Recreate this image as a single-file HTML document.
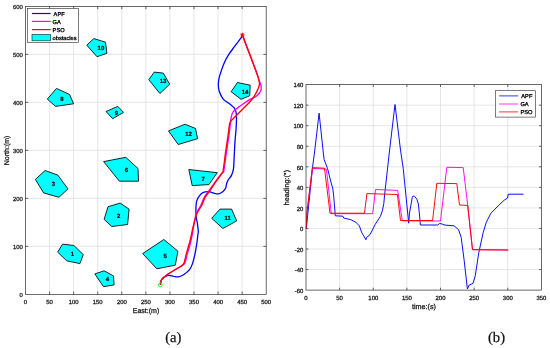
<!DOCTYPE html>
<html><head><meta charset="utf-8"><title>figure</title>
<style>html,body{margin:0;padding:0;background:#fff}body{width:550px;height:348px;overflow:hidden}svg{display:block}text{font-family:"Liberation Sans",Arial,sans-serif;fill:#1a1a1a;text-rendering:geometricPrecision}text{stroke:#1a1a1a;stroke-width:0.28px}.t{font-size:5.9px}.l{font-size:7px}.t2{font-size:5.95px}.l2{font-size:7.2px}.g{font-size:5.7px;fill:#000;stroke:#000;stroke-width:0.3px}.o{font-size:6px;font-weight:bold;fill:#000;stroke:#000;stroke-width:0.2px}.cap{font-family:"Liberation Serif","DejaVu Serif",serif;font-size:14.6px;fill:#111;stroke:#111;stroke-width:0.25px}</style></head><body>
<svg width="550" height="348" viewBox="0 0 550 348">
<rect width="550" height="348" fill="#fff"/>
<g stroke="#d6d6d6" stroke-width="0.62" fill="none">
<line x1="49.57" y1="6.4" x2="49.57" y2="294.35"/>
<line x1="73.64" y1="6.4" x2="73.64" y2="294.35"/>
<line x1="97.71" y1="6.4" x2="97.71" y2="294.35"/>
<line x1="121.78" y1="6.4" x2="121.78" y2="294.35"/>
<line x1="145.85" y1="6.4" x2="145.85" y2="294.35"/>
<line x1="169.92" y1="6.4" x2="169.92" y2="294.35"/>
<line x1="193.99" y1="6.4" x2="193.99" y2="294.35"/>
<line x1="218.06" y1="6.4" x2="218.06" y2="294.35"/>
<line x1="242.13" y1="6.4" x2="242.13" y2="294.35"/>
<line x1="25.5" y1="246.36" x2="266.2" y2="246.36"/>
<line x1="25.5" y1="198.37" x2="266.2" y2="198.37"/>
<line x1="25.5" y1="150.38" x2="266.2" y2="150.38"/>
<line x1="25.5" y1="102.38" x2="266.2" y2="102.38"/>
<line x1="25.5" y1="54.39" x2="266.2" y2="54.39"/>
</g>
<g fill="#00ffff" stroke="#000" stroke-width="0.85" stroke-linejoin="miter">
<polygon points="86.8,45.2 93.8,38.6 105.5,42.2 106.9,53.3 97.0,56.7"/>
<polygon points="148.8,79.7 154.2,72.1 163.3,73.1 169.7,84.2 159.9,93.5"/>
<polygon points="47.3,99.1 56.5,88.4 69.6,94.5 73.6,103.8 55.5,106.4"/>
<polygon points="106.0,111.5 117.8,106.4 123.5,112.4 112.7,118.7"/>
<polygon points="168.5,130.9 185.1,124.2 195.5,128.5 197.6,138.7 178.2,144.5"/>
<polygon points="35.4,179.4 45.1,170.5 57.8,175.1 68.0,188.9 58.9,197.3 43.6,192.9"/>
<polygon points="103.6,161.6 125.8,157.3 138.0,168.5 138.5,181.2 119.4,181.2"/>
<polygon points="108.0,206.7 120.2,203.1 129.1,209.2 127.6,224.5 111.8,226.5 104.1,219.4"/>
<polygon points="57.6,252.1 62.6,244.1 73.9,245.5 83.3,254.6 79.9,263.6 66.7,260.8"/>
<polygon points="94.8,273.9 104.1,270.8 113.5,275.9 114.1,284.9 103.5,286.7"/>
<polygon points="142.7,253.6 163.8,239.5 177.9,251.1 175.3,265.2 156.8,268.8"/>
<polygon points="188.8,169.5 217.3,172.7 208.9,184.6 192.2,185.6"/>
<polygon points="211.7,218.3 220.0,209.1 231.6,209.1 236.7,220.9 222.9,228.5"/>
<polygon points="231.1,91.7 237.5,82.5 250.2,85.2 249.7,95.8 241.0,99.3"/>
</g>
<text class="o" x="100.9" y="50.3" text-anchor="middle">10</text>
<text class="o" x="163.1" y="82.9" text-anchor="middle">13</text>
<text class="o" x="62.0" y="101.0" text-anchor="middle">8</text>
<text class="o" x="116.5" y="114.8" text-anchor="middle">9</text>
<text class="o" x="188.5" y="135.9" text-anchor="middle">12</text>
<text class="o" x="53.3" y="186.4" text-anchor="middle">3</text>
<text class="o" x="126.3" y="172.4" text-anchor="middle">6</text>
<text class="o" x="118.7" y="217.5" text-anchor="middle">2</text>
<text class="o" x="72.3" y="256.1" text-anchor="middle">1</text>
<text class="o" x="107.5" y="280.8" text-anchor="middle">4</text>
<text class="o" x="165.2" y="257.7" text-anchor="middle">5</text>
<text class="o" x="203.2" y="180.6" text-anchor="middle">7</text>
<text class="o" x="227.7" y="219.7" text-anchor="middle">11</text>
<text class="o" x="245.1" y="93.6" text-anchor="middle">14</text>
<path d="M160.4,284.6C160.6,283.8 160.7,281.3 161.4,280.0C162.1,278.7 163.2,277.7 164.5,276.9C165.8,276.1 167.4,275.4 168.9,275.3C170.4,275.2 172.1,276.1 173.7,276.4C175.3,276.6 176.7,277.1 178.4,276.8C180.1,276.5 182.1,275.7 183.9,274.5C185.8,273.3 188.1,271.6 189.5,269.7C190.9,267.8 191.7,266.0 192.6,263.4C193.5,260.8 194.3,257.3 195.0,253.9C195.7,250.5 196.4,246.1 196.9,242.9C197.4,239.8 197.6,236.9 197.8,235.0C198.0,233.1 198.4,233.2 198.3,231.4C198.2,229.6 197.8,226.5 197.5,224.1C197.2,221.7 196.4,219.7 196.2,216.8C195.9,213.9 195.9,209.3 196.0,206.6C196.1,203.9 196.3,202.2 196.9,200.4C197.5,198.6 198.4,197.2 199.4,195.9C200.4,194.6 201.4,193.3 202.9,192.6C204.4,191.9 206.9,191.5 208.7,191.6C210.5,191.7 212.0,192.7 213.7,193.1C215.4,193.5 217.1,194.1 218.7,193.8C220.2,193.6 221.8,192.6 223.0,191.6C224.2,190.6 225.1,189.3 225.7,188.0C226.3,186.7 226.2,185.0 226.6,183.7C227.0,182.4 227.3,181.5 228.1,180.1C228.9,178.7 230.7,177.0 231.6,175.1C232.5,173.2 233.1,171.4 233.5,168.7C233.9,165.9 233.9,161.3 234.1,158.6C234.2,155.9 234.2,155.3 234.4,152.4C234.6,149.5 234.7,145.2 235.0,141.3C235.3,137.4 235.8,132.6 236.1,128.7C236.3,124.8 236.5,120.8 236.5,118.0C236.5,115.2 236.4,113.5 236.0,111.8C235.6,110.1 234.9,108.9 234.0,107.7C233.1,106.5 231.9,105.7 230.5,104.6C229.1,103.5 227.1,102.2 225.8,101.2C224.5,100.2 224.0,100.3 222.9,98.7C221.8,97.1 220.1,93.9 219.3,91.5C218.5,89.1 218.3,86.8 218.3,84.4C218.3,82.0 218.8,79.4 219.3,77.2C219.8,75.0 220.3,73.6 221.2,71.1C222.0,68.6 223.2,65.1 224.4,62.4C225.7,59.6 227.0,57.2 228.7,54.6C230.4,52.0 232.8,48.9 234.4,46.7C236.0,44.5 236.9,43.3 238.2,41.6C239.4,39.9 241.2,37.7 241.9,36.6C242.6,35.5 242.4,35.1 242.5,34.8" fill="none" stroke="#0000ff" stroke-width="1.3" stroke-linejoin="round"/>
<path d="M160.4,284.6C160.5,284.1 160.8,281.0 161.4,280.0C162.0,279.0 164.4,276.8 165.8,275.7C167.2,274.6 171.9,271.6 173.7,270.5C175.5,269.4 180.6,266.8 181.8,266.0C183.0,265.2 184.2,264.2 184.7,263.4C185.2,262.6 185.9,259.7 186.2,258.6C186.5,257.5 186.8,255.6 187.3,253.9C187.8,252.2 190.0,245.0 190.5,242.9C191.0,240.8 191.9,236.8 192.2,235.0C192.5,233.2 193.1,229.3 193.5,227.0C193.9,224.7 195.4,216.3 196.2,213.9C197.0,211.5 200.0,207.0 200.9,205.2C201.8,203.4 203.2,199.2 204.2,197.4C205.2,195.6 208.8,190.9 210.2,189.0C211.6,187.1 215.2,181.9 216.5,180.2C217.8,178.5 220.8,174.9 221.6,173.9C222.4,172.9 223.4,172.3 223.7,171.5C224.0,170.7 224.2,168.3 224.4,167.0C224.6,165.7 225.2,161.7 225.4,160.0C225.6,158.3 226.1,154.6 226.5,152.0C226.9,149.4 228.4,139.5 228.8,136.6C229.2,133.7 230.0,127.1 230.2,125.5C230.4,123.9 230.5,123.0 230.6,122.0C230.7,121.0 231.0,117.7 231.3,116.6C231.6,115.5 232.5,112.8 233.0,112.0C233.5,111.2 235.3,109.8 236.0,109.2C236.7,108.6 238.7,107.0 239.5,106.4C240.3,105.8 242.0,104.7 243.0,104.0C244.0,103.3 247.4,100.9 248.8,100.1C250.2,99.3 254.0,97.8 255.2,97.0C256.4,96.2 258.8,93.9 259.5,93.0C260.2,92.1 261.1,89.9 261.2,89.0C261.3,88.1 261.0,85.8 260.8,85.0C260.6,84.2 259.9,82.3 259.6,81.5C259.3,80.7 258.7,78.9 258.3,77.6C257.9,76.3 256.6,72.7 255.6,70.0C254.6,67.3 250.7,57.0 249.3,53.3C247.9,49.6 243.8,38.7 243.0,36.6C242.2,34.5 242.6,35.0 242.5,34.8" fill="none" stroke="#ff00ff" stroke-width="1.35" stroke-linejoin="round"/>
<path d="M160.4,284.6C160.5,284.1 160.8,281.0 161.4,280.0C162.0,279.0 164.4,276.8 165.8,275.7C167.2,274.6 171.9,271.6 173.7,270.5C175.5,269.4 180.5,266.6 181.6,265.8C182.7,265.0 183.5,264.2 183.9,263.4C184.3,262.6 184.9,259.7 185.2,258.6C185.5,257.5 185.8,255.6 186.3,253.9C186.8,252.2 188.9,245.0 189.5,242.9C190.1,240.8 191.0,236.8 191.4,235.0C191.8,233.2 192.5,229.3 193.1,227.0C193.7,224.7 195.7,216.3 196.7,213.9C197.7,211.5 200.9,207.0 201.8,205.2C202.7,203.4 204.1,199.2 205.1,197.4C206.1,195.6 209.7,190.9 211.0,189.0C212.3,187.1 215.8,181.9 217.0,180.2C218.2,178.5 220.8,174.7 221.5,173.7C222.2,172.7 222.8,172.2 223.0,171.5C223.2,170.8 223.4,168.3 223.6,167.0C223.8,165.7 224.4,161.7 224.6,160.0C224.8,158.3 225.2,154.6 225.6,152.0C226.0,149.4 227.5,139.5 227.9,136.6C228.3,133.7 229.1,127.0 229.3,125.5C229.5,124.0 229.6,123.8 229.8,123.3C230.0,122.8 230.3,121.7 231.1,120.8C231.9,119.9 234.9,117.1 236.6,115.3C238.3,113.5 245.4,106.4 246.8,105.0C248.2,103.6 247.9,104.0 248.8,103.0C249.7,102.0 253.5,97.4 254.5,95.8C255.5,94.2 257.5,90.1 258.1,88.7C258.7,87.3 259.5,84.9 259.5,83.6C259.5,82.3 258.5,78.7 258.1,77.2C257.7,75.7 256.6,72.7 255.6,70.0C254.6,67.3 250.7,57.0 249.3,53.3C247.9,49.6 243.8,38.7 243.0,36.6C242.2,34.5 242.6,35.0 242.5,34.8" fill="none" stroke="#ff0000" stroke-width="1.35" stroke-linejoin="round"/>
<circle cx="160.4" cy="284.8" r="1.9" fill="none" stroke="#00ff00" stroke-width="0.9"/>
<circle cx="242.4" cy="34.7" r="1.3" fill="#ff0000"/>
<g stroke="#ff0000" stroke-width="0.7"><line x1="240.2" y1="34.8" x2="244.6" y2="34.8"/><line x1="242.4" y1="32.6" x2="242.4" y2="37"/><line x1="240.8" y1="33.2" x2="244" y2="36.4"/><line x1="240.8" y1="36.4" x2="244" y2="33.2"/></g>
<g stroke="#303030" stroke-width="0.72" fill="none"><rect x="25.5" y="6.4" width="240.7" height="287.95000000000005"/>
<line x1="49.57" y1="294.35" x2="49.57" y2="291.55"/><line x1="49.57" y1="6.4" x2="49.57" y2="9.2"/>
<line x1="73.64" y1="294.35" x2="73.64" y2="291.55"/><line x1="73.64" y1="6.4" x2="73.64" y2="9.2"/>
<line x1="97.71" y1="294.35" x2="97.71" y2="291.55"/><line x1="97.71" y1="6.4" x2="97.71" y2="9.2"/>
<line x1="121.78" y1="294.35" x2="121.78" y2="291.55"/><line x1="121.78" y1="6.4" x2="121.78" y2="9.2"/>
<line x1="145.85" y1="294.35" x2="145.85" y2="291.55"/><line x1="145.85" y1="6.4" x2="145.85" y2="9.2"/>
<line x1="169.92" y1="294.35" x2="169.92" y2="291.55"/><line x1="169.92" y1="6.4" x2="169.92" y2="9.2"/>
<line x1="193.99" y1="294.35" x2="193.99" y2="291.55"/><line x1="193.99" y1="6.4" x2="193.99" y2="9.2"/>
<line x1="218.06" y1="294.35" x2="218.06" y2="291.55"/><line x1="218.06" y1="6.4" x2="218.06" y2="9.2"/>
<line x1="242.13" y1="294.35" x2="242.13" y2="291.55"/><line x1="242.13" y1="6.4" x2="242.13" y2="9.2"/>
<line x1="25.5" y1="246.36" x2="28.3" y2="246.36"/><line x1="266.2" y1="246.36" x2="263.4" y2="246.36"/>
<line x1="25.5" y1="198.37" x2="28.3" y2="198.37"/><line x1="266.2" y1="198.37" x2="263.4" y2="198.37"/>
<line x1="25.5" y1="150.38" x2="28.3" y2="150.38"/><line x1="266.2" y1="150.38" x2="263.4" y2="150.38"/>
<line x1="25.5" y1="102.38" x2="28.3" y2="102.38"/><line x1="266.2" y1="102.38" x2="263.4" y2="102.38"/>
<line x1="25.5" y1="54.39" x2="28.3" y2="54.39"/><line x1="266.2" y1="54.39" x2="263.4" y2="54.39"/>
</g>
<text class="t" x="25.5" y="303.9" text-anchor="middle">0</text>
<text class="t" x="49.6" y="303.9" text-anchor="middle">50</text>
<text class="t" x="73.6" y="303.9" text-anchor="middle">100</text>
<text class="t" x="97.7" y="303.9" text-anchor="middle">150</text>
<text class="t" x="121.8" y="303.9" text-anchor="middle">200</text>
<text class="t" x="145.8" y="303.9" text-anchor="middle">250</text>
<text class="t" x="169.9" y="303.9" text-anchor="middle">300</text>
<text class="t" x="194.0" y="303.9" text-anchor="middle">350</text>
<text class="t" x="218.1" y="303.9" text-anchor="middle">400</text>
<text class="t" x="242.1" y="303.9" text-anchor="middle">450</text>
<text class="t" x="266.2" y="303.9" text-anchor="middle">500</text>
<text class="t" x="22.8" y="296.7" text-anchor="end">0</text>
<text class="t" x="22.8" y="248.7" text-anchor="end">100</text>
<text class="t" x="22.8" y="200.7" text-anchor="end">200</text>
<text class="t" x="22.8" y="152.7" text-anchor="end">300</text>
<text class="t" x="22.8" y="104.7" text-anchor="end">400</text>
<text class="t" x="22.8" y="56.7" text-anchor="end">500</text>
<text class="t" x="22.8" y="8.7" text-anchor="end">600</text>
<text class="l" x="146" y="313.4" text-anchor="middle">East:(m)</text>
<text class="l" transform="translate(8.6,150.4) rotate(-90)" text-anchor="middle">North:(m)</text>
<rect x="27.4" y="8.4" width="50.9" height="34.2" fill="#fff" stroke="#262626" stroke-width="0.6"/>
<line x1="32" y1="13.5" x2="50.6" y2="13.5" stroke="#0000ff" stroke-width="1.2"/>
<text class="g" x="53.6" y="15.6">APF</text>
<line x1="32" y1="21.4" x2="50.6" y2="21.4" stroke="#ff00ff" stroke-width="1.2"/>
<text class="g" x="52.6" y="23.5">GA</text>
<line x1="32" y1="29.6" x2="50.6" y2="29.6" stroke="#ff0000" stroke-width="1.2"/>
<text class="g" x="52.6" y="31.7">PSO</text>
<rect x="32" y="34.4" width="18.6" height="6.4" fill="#00ffff" stroke="#1a1a1a" stroke-width="0.6"/>
<text class="g" x="52.6" y="39.8">obstacles</text>
<text class="cap" x="173.3" y="342.2" text-anchor="middle">(a)</text>
<g stroke="#d6d6d6" stroke-width="0.62" fill="none">
<line x1="339.63" y1="84.6" x2="339.63" y2="290.1"/>
<line x1="373.26" y1="84.6" x2="373.26" y2="290.1"/>
<line x1="406.89" y1="84.6" x2="406.89" y2="290.1"/>
<line x1="440.51" y1="84.6" x2="440.51" y2="290.1"/>
<line x1="474.14" y1="84.6" x2="474.14" y2="290.1"/>
<line x1="507.77" y1="84.6" x2="507.77" y2="290.1"/>
<line x1="306.0" y1="269.55" x2="541.4" y2="269.55"/>
<line x1="306.0" y1="249.00" x2="541.4" y2="249.00"/>
<line x1="306.0" y1="228.45" x2="541.4" y2="228.45"/>
<line x1="306.0" y1="207.90" x2="541.4" y2="207.90"/>
<line x1="306.0" y1="187.35" x2="541.4" y2="187.35"/>
<line x1="306.0" y1="166.80" x2="541.4" y2="166.80"/>
<line x1="306.0" y1="146.25" x2="541.4" y2="146.25"/>
<line x1="306.0" y1="125.70" x2="541.4" y2="125.70"/>
<line x1="306.0" y1="105.15" x2="541.4" y2="105.15"/>
</g>
<polyline points="306.3,228.6 312.6,167.0 314.8,150.0 319.1,113.2 323.0,150.0 324.1,159.5 327.6,168.7 330.4,180.0 332.7,188.2 333.6,195.0 335.3,215.8 342.9,216.2 343.7,218.0 350.8,219.7 355.9,222.3 359.4,225.9 361.6,232.3 363.8,235.9 365.9,239.8 366.6,237.3 368.8,235.9 370.9,233.0 375.2,224.4 380.3,216.5 382.4,210.8 383.8,203.6 384.6,195.0 389.6,150.0 395.0,104.5 400.5,150.0 403.2,168.2 407.7,213.0 408.7,223.2 409.5,213.0 412.3,197.3 413.2,196.0 414.4,196.2 416.8,199.1 418.4,204.0 419.5,215.0 420.4,225.0 437.7,225.0 439.6,223.4 442.5,224.2 445.0,225.1 454.0,225.8 458.5,229.6 461.2,237.4 464.1,259.9 467.4,289.0 469.2,285.0 473.0,283.4 475.3,275.6 478.7,253.1 483.1,232.9 486.3,222.3 490.8,213.4 498.7,205.3 504.2,200.2 507.6,198.0 508.2,194.2 523.6,194.2" fill="none" stroke="#0000ff" stroke-width="0.95" stroke-linejoin="round"/>
<polyline points="306.3,228.6 306.9,213.0 312.4,168.4 326.4,169.1 331.3,213.7 372.7,213.7 375.5,189.5 397.7,190.4 402.3,220.8 440.5,221.0 446.8,167.3 463.2,167.6 467.7,205.0 472.5,249.6 508.2,250.0" fill="none" stroke="#ff00ff" stroke-width="0.95" stroke-linejoin="round"/>
<polyline points="306.3,228.6 306.9,213.0 312.4,167.6 324.5,168.2 330.0,213.2 364.5,213.2 366.9,193.6 397.4,194.5 400.5,220.5 432.6,220.5 436.8,183.3 456.8,183.6 459.5,205.0 467.7,205.4 472.5,249.7 508.2,250.0" fill="none" stroke="#ff0000" stroke-width="0.95" stroke-linejoin="round"/>
<g stroke="#303030" stroke-width="0.72" fill="none"><rect x="306.0" y="84.6" width="235.4" height="205.5"/>
<line x1="339.63" y1="290.1" x2="339.63" y2="287.70000000000005"/><line x1="339.63" y1="84.6" x2="339.63" y2="87.0"/>
<line x1="373.26" y1="290.1" x2="373.26" y2="287.70000000000005"/><line x1="373.26" y1="84.6" x2="373.26" y2="87.0"/>
<line x1="406.89" y1="290.1" x2="406.89" y2="287.70000000000005"/><line x1="406.89" y1="84.6" x2="406.89" y2="87.0"/>
<line x1="440.51" y1="290.1" x2="440.51" y2="287.70000000000005"/><line x1="440.51" y1="84.6" x2="440.51" y2="87.0"/>
<line x1="474.14" y1="290.1" x2="474.14" y2="287.70000000000005"/><line x1="474.14" y1="84.6" x2="474.14" y2="87.0"/>
<line x1="507.77" y1="290.1" x2="507.77" y2="287.70000000000005"/><line x1="507.77" y1="84.6" x2="507.77" y2="87.0"/>
<line x1="306.0" y1="269.55" x2="308.4" y2="269.55"/><line x1="541.4" y1="269.55" x2="539.0" y2="269.55"/>
<line x1="306.0" y1="249.00" x2="308.4" y2="249.00"/><line x1="541.4" y1="249.00" x2="539.0" y2="249.00"/>
<line x1="306.0" y1="228.45" x2="308.4" y2="228.45"/><line x1="541.4" y1="228.45" x2="539.0" y2="228.45"/>
<line x1="306.0" y1="207.90" x2="308.4" y2="207.90"/><line x1="541.4" y1="207.90" x2="539.0" y2="207.90"/>
<line x1="306.0" y1="187.35" x2="308.4" y2="187.35"/><line x1="541.4" y1="187.35" x2="539.0" y2="187.35"/>
<line x1="306.0" y1="166.80" x2="308.4" y2="166.80"/><line x1="541.4" y1="166.80" x2="539.0" y2="166.80"/>
<line x1="306.0" y1="146.25" x2="308.4" y2="146.25"/><line x1="541.4" y1="146.25" x2="539.0" y2="146.25"/>
<line x1="306.0" y1="125.70" x2="308.4" y2="125.70"/><line x1="541.4" y1="125.70" x2="539.0" y2="125.70"/>
<line x1="306.0" y1="105.15" x2="308.4" y2="105.15"/><line x1="541.4" y1="105.15" x2="539.0" y2="105.15"/>
</g>
<text class="t2" x="306.0" y="299.8" text-anchor="middle">0</text>
<text class="t2" x="339.6" y="299.8" text-anchor="middle">50</text>
<text class="t2" x="373.3" y="299.8" text-anchor="middle">100</text>
<text class="t2" x="406.9" y="299.8" text-anchor="middle">150</text>
<text class="t2" x="440.5" y="299.8" text-anchor="middle">200</text>
<text class="t2" x="474.1" y="299.8" text-anchor="middle">250</text>
<text class="t2" x="507.8" y="299.8" text-anchor="middle">300</text>
<text class="t2" x="541.4" y="299.8" text-anchor="middle">350</text>
<text class="t2" x="303.3" y="292.8" text-anchor="end">-60</text>
<text class="t2" x="303.3" y="272.2" text-anchor="end">-40</text>
<text class="t2" x="303.3" y="251.7" text-anchor="end">-20</text>
<text class="t2" x="303.3" y="231.2" text-anchor="end">0</text>
<text class="t2" x="303.3" y="210.6" text-anchor="end">20</text>
<text class="t2" x="303.3" y="190.1" text-anchor="end">40</text>
<text class="t2" x="303.3" y="169.5" text-anchor="end">60</text>
<text class="t2" x="303.3" y="148.9" text-anchor="end">80</text>
<text class="t2" x="303.3" y="128.4" text-anchor="end">100</text>
<text class="t2" x="303.3" y="107.9" text-anchor="end">120</text>
<text class="t2" x="303.3" y="87.3" text-anchor="end">140</text>
<text class="l2" x="423.9" y="308.9" text-anchor="middle">time:(s)</text>
<text class="l2" transform="translate(289.2,187.5) rotate(-90)" text-anchor="middle">heading:(°)</text>
<rect x="495.5" y="90.7" width="40" height="26.4" fill="#fff" stroke="#262626" stroke-width="0.6"/>
<line x1="499.1" y1="95.9" x2="518.2" y2="95.9" stroke="#0000ff" stroke-width="0.8"/>
<text class="g" x="521.3" y="98.2">APF</text>
<line x1="499.1" y1="104.0" x2="518.2" y2="104.0" stroke="#ff00ff" stroke-width="0.8"/>
<text class="g" x="520.4" y="106.3">GA</text>
<line x1="499.1" y1="111.9" x2="518.2" y2="111.9" stroke="#ff0000" stroke-width="0.8"/>
<text class="g" x="520.4" y="114.2">PSO</text>
<text class="cap" x="496.5" y="342.0" text-anchor="middle">(b)</text>
</svg></body></html>
